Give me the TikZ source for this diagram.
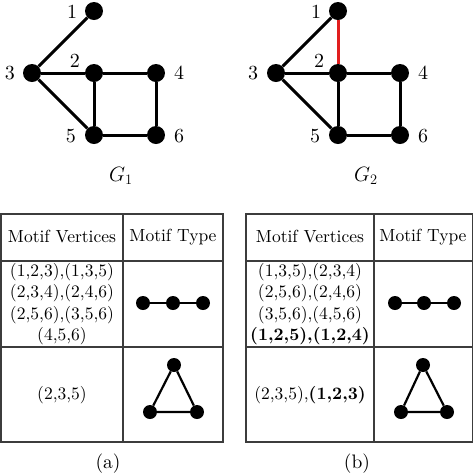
\documentclass[tikz,border=0pt]{standalone}
\usepackage{fontspec}
\setmainfont{lmroman10-regular.otf}[BoldFont=lmroman10-bold.otf,ItalicFont=lmroman10-italic.otf]
\definecolor{edgered}{RGB}{225,30,30}
\definecolor{gridgray}{RGB}{60,60,60}
\begin{document}
\begin{tikzpicture}[x=1pt,y=-1pt,
  vtx/.style={circle,fill=black,inner sep=0pt,minimum size=18pt},
  svtx/.style={circle,fill=black,inner sep=0pt,minimum size=14pt},
  gedge/.style={line width=3pt},
  sedge/.style={line width=2.2pt},
  lbl/.style={font=\fontsize{20}{22}\selectfont,inner sep=0pt},
  captxt/.style={font=\fontsize{19.5}{22}\selectfont,inner sep=0pt},
  glbl/.style={font=\fontsize{21.5}{24}\selectfont,inner sep=0pt},
  cell/.style={font=\fontsize{17.5}{21.5}\selectfont,align=center,inner sep=0pt},
  grid/.style={line width=1.1pt,draw=gridgray}]
\useasboundingbox (0,0) rectangle (474,475);

% ---------- G1 ----------
\node[vtx] (a1) at (94,11) {};
\node[vtx] (a2) at (94,73) {};
\node[vtx] (a3) at (32,73) {};
\node[vtx] (a4) at (156,73) {};
\node[vtx] (a5) at (94,135) {};
\node[vtx] (a6) at (156,135) {};
\draw[gedge] (a1) -- (a3);
\draw[gedge] (a3) -- (a2);
\draw[gedge] (a3) -- (a5);
\draw[gedge] (a2) -- (a4);
\draw[gedge] (a2) -- (a5);
\draw[gedge] (a4) -- (a6);
\draw[gedge] (a5) -- (a6);
\node[lbl] (la1) at (72,12) {1};
\node[lbl] (la2) at (75,61) {2};
\node[lbl] (la3) at (10,73) {3};
\node[lbl] (la4) at (179,73) {4};
\node[lbl] (la5) at (71,136) {5};
\node[lbl] (la6) at (179,136) {6};
\node[glbl] (g1) at (121,176) {$G_1$};

% ---------- G2 ----------
\node[vtx] (b1) at (338,11) {};
\node[vtx] (b2) at (338,73) {};
\node[vtx] (b3) at (276,73) {};
\node[vtx] (b4) at (400,73) {};
\node[vtx] (b5) at (338,135) {};
\node[vtx] (b6) at (400,135) {};
\draw[gedge] (b1) -- (b3);
\draw[gedge,draw=edgered] (b1) -- (b2);
\draw[gedge] (b3) -- (b2);
\draw[gedge] (b3) -- (b5);
\draw[gedge] (b2) -- (b4);
\draw[gedge] (b2) -- (b5);
\draw[gedge] (b4) -- (b6);
\draw[gedge] (b5) -- (b6);
\node[lbl] (lb1) at (316,12) {1};
\node[lbl] (lb2) at (319,61) {2};
\node[lbl] (lb3) at (253,73) {3};
\node[lbl] (lb4) at (423,73) {4};
\node[lbl] (lb5) at (315,136) {5};
\node[lbl] (lb6) at (423,136) {6};
\node[glbl] (g2) at (366,176) {$G_2$};

% ---------- table (a) ----------
\draw[grid] (1,214) rectangle (223,442);
\draw[grid] (1,261) -- (223,261);
\draw[grid] (1,347) -- (223,347);
\draw[grid] (123,214) -- (123,442);
\node[cell] (ha1) at (62,237) {Motif Vertices};
\node[cell] (ha2) at (173,237) {Motif Type};
\node[cell] (ra1) at (62,304) {(1,2,3),(1,3,5)\\(2,3,4),(2,4,6)\\(2,5,6),(3,5,6)\\(4,5,6)};
\node[svtx] (pa1) at (143,303) {};
\node[svtx] (pa2) at (173,303) {};
\node[svtx] (pa3) at (203,303) {};
\draw[sedge] (pa1) -- (pa2) -- (pa3);
\node[cell] (sa1) at (62,395) {(2,3,5)};
\node[svtx] (ta1) at (174,365) {};
\node[svtx] (ta2) at (150,412) {};
\node[svtx] (ta3) at (197,412) {};
\draw[sedge] (ta1) -- (ta2) -- (ta3) -- (ta1);
\node[captxt] (capa) at (108,464) {(a)};

% ---------- table (b) ----------
\draw[grid] (246,214) rectangle (472.5,442);
\draw[grid] (246,261) -- (472.5,261);
\draw[grid] (246,347) -- (472.5,347);
\draw[grid] (374,214) -- (374,442);
\node[cell] (hb1) at (310,237) {Motif Vertices};
\node[cell] (hb2) at (423,237) {Motif Type};
\node[cell] (rb1) at (310,304) {(1,3,5),(2,3,4)\\(2,5,6),(2,4,6)\\(3,5,6),(4,5,6)\\\textbf{(1,2,5),(1,2,4)}};
\node[svtx] (pb1) at (395,303) {};
\node[svtx] (pb2) at (424,303) {};
\node[svtx] (pb3) at (454,303) {};
\draw[sedge] (pb1) -- (pb2) -- (pb3);
\node[cell] (sb1) at (310,395) {(2,3,5),\textbf{(1,2,3)}};
\node[svtx] (tb1) at (423,365) {};
\node[svtx] (tb2) at (401,412) {};
\node[svtx] (tb3) at (447,412) {};
\draw[sedge] (tb1) -- (tb2) -- (tb3) -- (tb1);
\node[captxt] (capb) at (357,464) {(b)};
\end{tikzpicture}
\end{document}
